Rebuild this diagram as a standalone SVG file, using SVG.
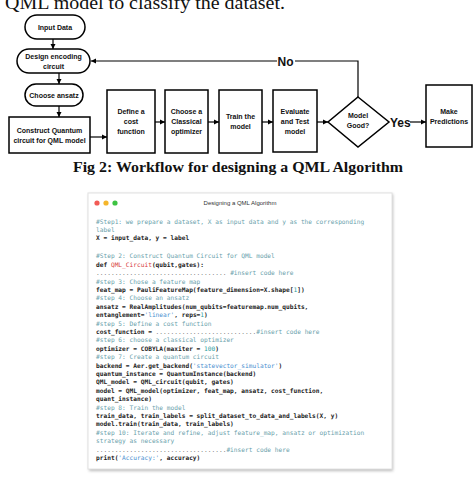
<svg xmlns="http://www.w3.org/2000/svg" width="474" height="477" viewBox="0 0 474 477">
<defs>
<marker id="ah" markerWidth="6" markerHeight="6" refX="5" refY="3" orient="auto" markerUnits="userSpaceOnUse">
<path d="M0,0.5 L5,3 L0,5.5 Z" fill="#000"/>
</marker>
<filter id="sh" x="-5%" y="-5%" width="110%" height="110%">
<feGaussianBlur stdDeviation="1.5"/>
</filter>
</defs>
<style>
.n{fill:#fff;stroke:#000;stroke-width:1.5}
.t{font-family:"Liberation Sans",Arial,sans-serif;font-weight:bold;font-size:7px;text-anchor:middle;fill:#111}
.c{stroke:#000;stroke-width:1.2;fill:none}
.lbl{font-family:"Liberation Sans",Arial,sans-serif;font-weight:bold;font-size:12px;fill:#111}
.code{font-family:"DejaVu Sans Mono","Liberation Mono",monospace;font-size:6.2px;fill:#222;font-weight:bold}
.cm{fill:#6a9fac;font-weight:normal}
.st{fill:#4a8fd0;font-weight:normal}
.nm{fill:#2aa0a0;font-weight:normal}
.fn{fill:#d84040;font-weight:normal}
.dt{fill:#777;font-weight:normal}
</style>
<rect width="474" height="477" fill="#fff"/>
<text x="5" y="8.5" font-family="Liberation Serif,serif" font-size="18" textLength="280" lengthAdjust="spacingAndGlyphs" fill="#111">QML model to classify the dataset.</text>

<g id="connectors">
<line class="c" x1="53" y1="39" x2="53" y2="49" marker-end="url(#ah)"/>
<line class="c" x1="59" y1="73" x2="59" y2="84" marker-end="url(#ah)"/>
<line class="c" x1="59" y1="106" x2="59" y2="117" marker-end="url(#ah)"/>
<line class="c" x1="90" y1="137" x2="107" y2="137" marker-end="url(#ah)"/>
<line class="c" x1="155" y1="122" x2="165" y2="122" marker-end="url(#ah)"/>
<line class="c" x1="208" y1="122" x2="219" y2="122" marker-end="url(#ah)"/>
<line class="c" x1="262" y1="122" x2="273" y2="122" marker-end="url(#ah)"/>
<line class="c" x1="317" y1="122" x2="328" y2="122" marker-end="url(#ah)"/>
<line class="c" x1="410" y1="122" x2="426" y2="122" marker-end="url(#ah)"/>
<polyline class="c" points="358,97 358,61 295,61"/>
<line class="c" x1="277" y1="61" x2="91" y2="61" marker-end="url(#ah)"/>
<text class="lbl" x="277.5" y="65.5">No</text>
<text class="lbl" x="390" y="126.5">Yes</text>
</g>

<g id="n-input"><rect class="n" x="25" y="15" width="60" height="24" rx="12"/><text class="t" x="55" y="29.5">Input Data</text></g>
<g id="n-encode"><rect class="n" x="17" y="49" width="73" height="24" rx="12"/><text class="t" x="53.5" y="58.5">Design encoding</text><text class="t" x="53.5" y="68.5">circuit</text></g>
<g id="n-ansatz"><rect class="n" x="25" y="84" width="58" height="22" rx="11"/><text class="t" x="54" y="97.5">Choose ansatz</text></g>
<g id="n-construct"><rect class="n" x="9" y="117" width="81" height="36"/><text class="t" x="49.5" y="132.5">Construct Quantum</text><text class="t" x="49.5" y="142.5">circuit for QML model</text></g>
<g id="n-cost"><rect class="n" x="107" y="90" width="48" height="63"/><text class="t" x="131" y="114">Define a</text><text class="t" x="131" y="124">cost</text><text class="t" x="131" y="134">function</text></g>
<g id="n-optim"><rect class="n" x="165" y="90" width="43" height="63"/><text class="t" x="186.5" y="114">Choose a</text><text class="t" x="186.5" y="124">Classical</text><text class="t" x="186.5" y="134">optimizer</text></g>
<g id="n-train"><rect class="n" x="219" y="90" width="43" height="63"/><text class="t" x="240.5" y="118.5">Train the</text><text class="t" x="240.5" y="128.5">model</text></g>
<g id="n-eval"><rect class="n" x="273" y="90" width="44" height="62"/><text class="t" x="295" y="114">Evaluate</text><text class="t" x="295" y="124">and Test</text><text class="t" x="295" y="134">model</text></g>
<g id="n-good"><polygon class="n" points="358,97 389,122 358,147 328,122"/><text class="t" x="358" y="117.5">Model</text><text class="t" x="358" y="127.5">Good?</text></g>
<g id="n-predict"><rect class="n" x="426" y="85" width="46" height="62"/><text class="t" x="449" y="113.5">Make</text><text class="t" x="449" y="123.5">Predictions</text></g>

<text x="238" y="172" font-family="Liberation Serif,serif" font-weight="bold" font-size="14" text-anchor="middle" textLength="330" lengthAdjust="spacingAndGlyphs" fill="#111">Fig 2: Workflow for designing a QML Algorithm</text>

<g id="code-window">
<rect x="89" y="194" width="304" height="277" fill="#bbb" filter="url(#sh)"/>
<rect x="88" y="193" width="304" height="276" fill="#fff" stroke="#e2e2e2" stroke-width="1"/>
<circle cx="97" cy="203" r="2.6" fill="#f25b55"/>
<circle cx="106" cy="203" r="2.6" fill="#f5b62b"/>
<circle cx="115" cy="203" r="2.6" fill="#3dc342"/>
<text x="240" y="205" font-family="Liberation Sans,Arial,sans-serif" font-size="6" text-anchor="middle" fill="#333">Designing a QML Algorithm</text>
<text class="code" x="96">
<tspan x="96" y="224" class="cm">#Step1: we prepare a dataset, X as input data and y as the corresponding</tspan>
<tspan x="96" y="232" class="cm">label</tspan>
<tspan x="96" y="240">X = input_data, y = label</tspan>
<tspan x="96" y="258.4" class="cm">#Step 2: Construct Quantum Circuit for QML model</tspan>
<tspan x="96" y="266.8">def <tspan class="fn">QML_Circuit</tspan>(qubit,gates):</tspan>
<tspan x="96" y="275.2">  <tspan class="dt">...................................</tspan> <tspan class="cm">#insert code here</tspan></tspan>
<tspan x="96" y="283.6" class="cm">#step 3: Chose a feature map</tspan>
<tspan x="96" y="292">feat_map = PauliFeatureMap(feature_dimension=X.shape[<tspan class="nm">1</tspan>])</tspan>
<tspan x="96" y="300.4" class="cm">#step 4: Choose an ansatz</tspan>
<tspan x="96" y="308.8">ansatz = RealAmplitudes(num_qubits=featuremap.num_qubits,</tspan>
<tspan x="96" y="317.2">entanglement=<tspan class="st">'linear'</tspan>, reps=<tspan class="nm">1</tspan>)</tspan>
<tspan x="96" y="325.6" class="cm">#step 5: Define a cost function</tspan>
<tspan x="96" y="334">cost_function = <tspan class="dt">...........................</tspan><tspan class="cm">#insert code here</tspan></tspan>
<tspan x="96" y="342.4" class="cm">#step 6: choose a classical optimizer</tspan>
<tspan x="96" y="350.8">optimizer = COBYLA(maxiter = <tspan class="nm">100</tspan>)</tspan>
<tspan x="96" y="359.2" class="cm">#step 7: Create a quantum circuit</tspan>
<tspan x="96" y="367.6">backend = Aer.get_backend(<tspan class="st">'statevector_simulator'</tspan>)</tspan>
<tspan x="96" y="376">quantum_instance = QuantumInstance(backend)</tspan>
<tspan x="96" y="384.4">QML_model = QML_circuit(qubit, gates)</tspan>
<tspan x="96" y="392.8">model = QML_model(optimizer, feat_map, ansatz, cost_function,</tspan>
<tspan x="96" y="401.2">quant_instance)</tspan>
<tspan x="96" y="409.6" class="cm">#step 8: Train the model</tspan>
<tspan x="96" y="418">train_data, train_labels = split_dataset_to_data_and_labels(X, y)</tspan>
<tspan x="96" y="426.4">model.train(train_data, train_labels)</tspan>
<tspan x="96" y="434.8" class="cm">#step 10: Iterate and refine, adjust feature_map, ansatz or optimization</tspan>
<tspan x="96" y="443.2" class="cm">strategy as necessary</tspan>
<tspan x="96" y="451.6"><tspan class="dt">...................................</tspan><tspan class="cm">#insert code here</tspan></tspan>
<tspan x="96" y="460">print(<tspan class="st">'Accuracy:'</tspan>, accuracy)</tspan>
</text>
</g>
</svg>
